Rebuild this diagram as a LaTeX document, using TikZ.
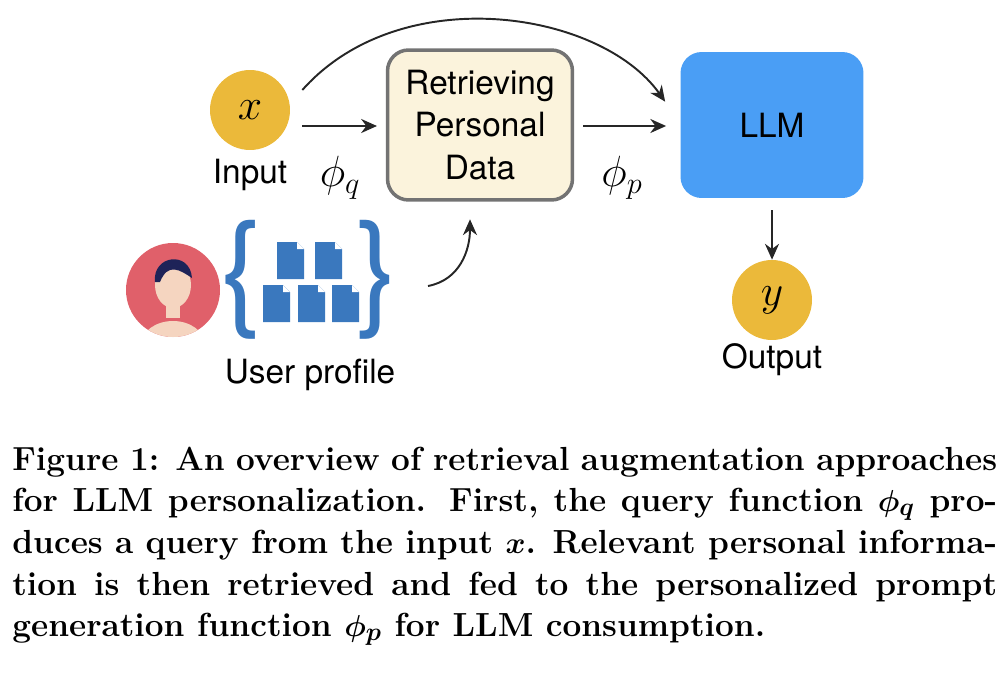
\documentclass[tikz,border=0pt]{standalone}
\usepackage{amsmath}
\usepackage{fontspec}
\newfontfamily\heros{TeX Gyre Heros}
\usetikzlibrary{positioning,arrows.meta}
\definecolor{varyellow}{HTML}{EBB93A}
\definecolor{boxcream}{HTML}{FBF3DC}
\definecolor{llmblue}{HTML}{4A9EF5}
\definecolor{docblue}{HTML}{3A78BE}
\definecolor{facered}{HTML}{E0606A}
\definecolor{skin}{HTML}{F5D5C0}
\definecolor{hairnavy}{HTML}{1E2358}
\newcommand{\docicon}[2]{%
  \fill[docblue] (#1,#2) -- ++(20,0) -- ++(7,7) -- ++(0,30) -- ++(-27,0) -- cycle;
  \fill[white] (#1+20,#2) -- ++(0,7) -- ++(7,0) -- cycle;}
\begin{document}
\begin{tikzpicture}[x=0.02cm,y=-0.02cm,
  lbl/.style={font=\heros\fontsize{19}{24}\selectfont, inner sep=0pt},
  phi/.style={font=\fontsize{25}{25}\selectfont, inner sep=0pt},
  var/.style={circle, fill=varyellow, minimum size=1.6cm, inner sep=0pt, font=\fontsize{24}{24}\selectfont},
  capline/.style={anchor=base west, inner sep=0pt, font=\bfseries\fontsize{19}{23}\selectfont},
  arr/.style={-{Stealth[length=9pt,width=8pt]}, line width=1.1pt, black!85}]
\useasboundingbox (0,0) rectangle (1006,676);

%% Input and query
\node[var] (x) at (250,110) {$x$};
\node[lbl] (input) at (250,175) {Input};
\node[phi] (phiq) at (340,178) {$\phi_q$};

%% Retrieval box
\node[lbl, draw=black!55, line width=2pt, fill=boxcream, rounded corners=12pt,
  minimum width=3.7cm, minimum height=3cm, align=center] (ret) at (480,125)
  {Retrieving\\Personal\\Data};
\node[phi] (phip) at (622,178) {$\phi_p$};

%% LLM
\node[lbl, fill=llmblue, rounded corners=12pt, minimum width=3.66cm,
  minimum height=2.92cm] (llm) at (772,125) {LLM};
\node[var] (y) at (772,300) {$y$};
\node[lbl] (output) at (772,360) {Output};

%% User profile
\fill[facered] (173,290) circle (47);
\begin{scope}
\clip (173,290) circle (47);
\fill[skin] (173,345) ellipse (32 and 24);
\end{scope}
\fill[skin] (166,300) rectangle (180,318);
\fill[skin] (173,285) ellipse (18 and 23);
\fill[hairnavy] (155,282) .. controls (152,255) and (190,250) .. (192,278)
  .. controls (180,270) and (168,262) .. (160,282) -- cycle;
\node[font=\heros\fontsize{72}{72}\selectfont, text=docblue, inner sep=0pt] (lbrace) at (242,280) {\{};
\node[font=\heros\fontsize{72}{72}\selectfont, text=docblue, inner sep=0pt] (rbrace) at (378,280) {\}};
\docicon{277}{242}\docicon{315}{242}
\docicon{263}{285}\docicon{298}{285}\docicon{332}{285}
\node[lbl] (profile) at (310,375) {User profile};
\coordinate (prof) at (428,286);

%% Connectors
\draw[arr, shorten >=5pt] (x.east) ++(12,16) coordinate (xq) -- (ret.west |- xq);
\draw[arr, shorten <=5pt, shorten >=8pt] (ret.east |- xq) -- (llm.west |- xq);
\draw[arr] (llm.south) ++(0,12) coordinate (ls) -- (y.north);
\draw[arr, shorten >=10pt] (prof) .. controls (460,280) and (470,250) .. (ret.south -| 470,0);
\draw[arr] (x.east) ++(12,-20) coordinate (xt) .. controls (400,-20) and (600,10) .. ([shift={(-15,50)}]llm.north west);

%% Caption, one justified line per node
\node[capline] (cap1) at (12,470) {\makebox[19.7cm][s]{Figure 1: An overview of retrieval augmentation approaches}};
\node[capline] (cap2) at (12,511) {\makebox[19.7cm][s]{for LLM personalization. First, the query function $\boldsymbol{\phi_q}$ pro-}};
\node[capline] (cap3) at (12,553) {\makebox[19.7cm][s]{duces a query from the input $\boldsymbol{x}$. Relevant personal informa-}};
\node[capline] (cap4) at (12,595) {\makebox[19.7cm][s]{tion is then retrieved and fed to the personalized prompt}};
\node[capline] (cap5) at (12,636) {generation function $\boldsymbol{\phi_p}$ for LLM consumption.};
\end{tikzpicture}
\end{document}
